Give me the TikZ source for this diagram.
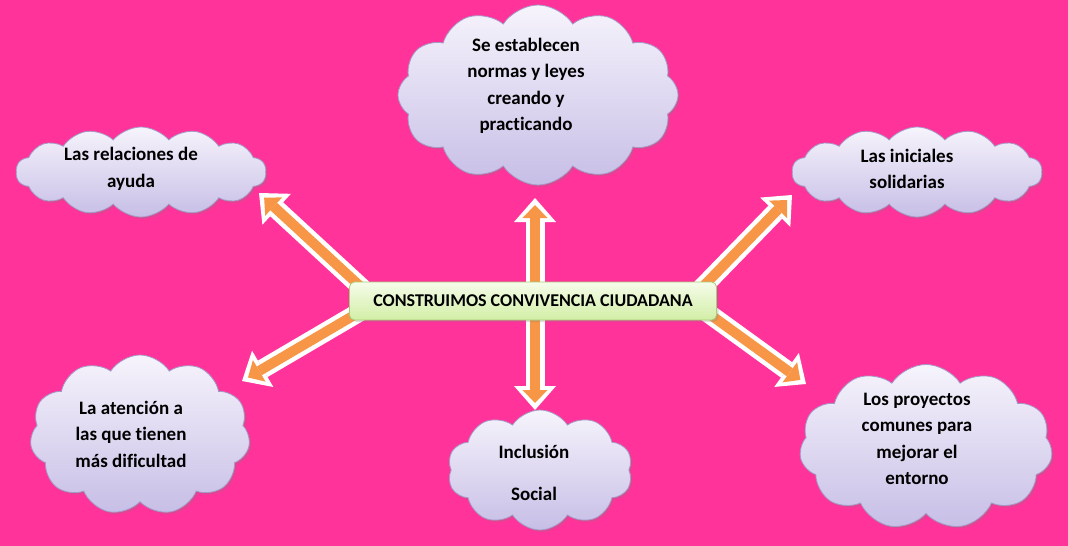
\documentclass[tikz,border=0pt]{standalone}
\usepackage{fontspec}
\setmainfont{Carlito}[Ligatures=NoCommon]
\usetikzlibrary{shapes.symbols,arrows.meta,shadows}
\definecolor{bg}{HTML}{FF3399}
\definecolor{org}{HTML}{F79646}
\definecolor{cltop}{HTML}{F6F4FC}
\definecolor{clbot}{HTML}{C7BEE6}
\definecolor{clline}{HTML}{A598C8}
\definecolor{gtop}{HTML}{F6FCEA}
\definecolor{gbot}{HTML}{D2EEA6}
\definecolor{gline}{HTML}{A9CC7A}
\tikzset{
  cloudbox/.style={cloud, cloud ignores aspect, cloud puff arc=115,
    top color=cltop, bottom color=clbot, draw=clline, line width=0.8pt,
    drop shadow={shadow xshift=2pt, shadow yshift=-2pt, opacity=0.25}},
  ctext/.style={align=center, font=\bfseries\fontsize{19}{26.5}\selectfont, text=black, inner sep=0pt},
  arrw/.style={draw=white, line width=19pt,
    -{Triangle[width=42pt,length=24pt,line width=0pt]}},
  arro/.style={draw=org, line width=10pt, shorten >=7pt,
    -{Triangle[width=25pt,length=13pt,line width=0pt]}},
  mainbox/.style={rounded corners=5pt, minimum width=367pt, minimum height=38pt,
    top color=gtop, bottom color=gbot, draw=gline, line width=0.8pt,
    font=\bfseries\fontsize{18}{20}\selectfont, text=black,
    drop shadow={shadow xshift=2pt, shadow yshift=-2pt, opacity=0.25}}
}
\begin{document}
\begin{tikzpicture}[x=1pt,y=-1pt]
\fill[bg] (0,0) rectangle (1068,546);
\useasboundingbox (0,0) rectangle (1068,546);

% clouds
\node[cloudbox, cloud puffs=12, minimum width=280pt, minimum height=180pt] (c1) at (538,95) {};
\node[cloudbox, cloud puffs=14, cloud puff arc=100, minimum width=250pt, minimum height=90pt] (c2) at (141,172) {};
\node[cloudbox, cloud puffs=14, cloud puff arc=100, minimum width=250pt, minimum height=90pt] (c3) at (917,172) {};
\node[cloudbox, cloud puffs=11, minimum width=220pt, minimum height=160pt] (c4) at (140,435) {};
\node[cloudbox, cloud puffs=10, minimum width=185pt, minimum height=120pt] (c5) at (540,470) {};
\node[cloudbox, cloud puffs=11, minimum width=253pt, minimum height=165pt] (c6) at (926,447) {};

% cloud texts
\node[ctext] (t1) at (526,86) {Se establecen\\normas y leyes\\creando y\\practicando};
\node[ctext] (t2) at (131,169) {Las relaciones de\\ayuda};
\node[ctext] (t3) at (907,169) {Las iniciales\\solidarias};
\node[ctext] (t4) at (131,434) {La atención a\\las que tienen\\más dificultad};
\node[ctext] (t5) at (534,473) {Inclusión\\[16pt]Social};
\node[ctext] (t6) at (917,439) {Los proyectos\\comunes para\\mejorar el\\entorno};

% arrow start points (behind the central box) and tips
\coordinate (s1) at (375,300);
\coordinate (s2) at (535,295);
\coordinate (s3) at (690,300);
\coordinate (s4) at (380,300);
\coordinate (s5) at (535,305);
\coordinate (s6) at (690,300);
\coordinate (e1) at (259,193);
\coordinate (e2) at (535,198);
\coordinate (e3) at (792,195);
\coordinate (e4) at (242,381);
\coordinate (e5) at (535,410);
\coordinate (e6) at (806,384);

\foreach \i in {1,...,6}{
  \draw[arrw] (s\i) -- (e\i);
  \draw[arro] (s\i) -- (e\i);
}

\node[mainbox] (m) at (533,301) {CONSTRUIMOS CONVIVENCIA CIUDADANA};
\end{tikzpicture}
\end{document}
